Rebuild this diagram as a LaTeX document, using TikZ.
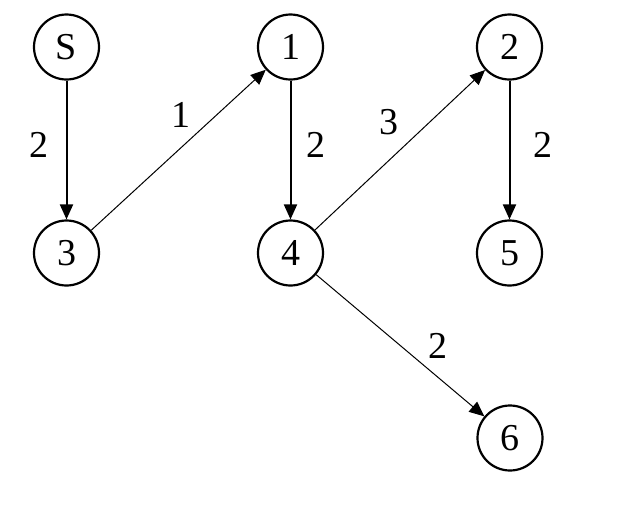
\documentclass[tikz,border=0pt]{standalone}
\usepackage{fontspec}
\setmainfont{Liberation Serif}
\usetikzlibrary{arrows.meta}
\tikzset{
    vertex/.style={draw, circle, line width=1.1pt, minimum size=32.5pt, inner sep=0pt, font=\fontsize{19}{22}\selectfont},
    wlabel/.style={font=\fontsize{19}{22}\selectfont},
    tip/.style={-{Triangle[length=7.5pt, width=6.5pt]}}
}
\begin{document}
\begin{tikzpicture}[x=0.5pt, y=-0.5pt]
    \useasboundingbox (0,0) rectangle (644,516);

    \node[vertex] (S) at (66.5,47) {S};
    \node[vertex] (n1) at (290.5,47) {1};
    \node[vertex] (n2) at (509.5,47) {2};
    \node[vertex] (n3) at (66.5,253) {3};
    \node[vertex] (n4) at (290.5,253) {4};
    \node[vertex] (n5) at (509.5,253) {5};
    \node[vertex] (n6) at (510,438) {6};

    \draw[tip, line width=1pt] (S) -- (n3);
    \draw[tip, line width=1pt] (n1) -- (n4);
    \draw[tip, line width=1pt] (n2) -- (n5);
    \draw[tip, line width=0.5pt] (n3) -- (n1);
    \draw[tip, line width=0.5pt] (n4) -- (n2);
    \draw[tip, line width=0.5pt] (n4) -- (n6);

    \node[wlabel] (w1) at (39,145) {2};
    \node[wlabel] (w2) at (181,115) {1};
    \node[wlabel] (w3) at (316,145) {2};
    \node[wlabel] (w4) at (389,122) {3};
    \node[wlabel] (w5) at (543,145) {2};
    \node[wlabel] (w6) at (438,346) {2};
\end{tikzpicture}
\end{document}
